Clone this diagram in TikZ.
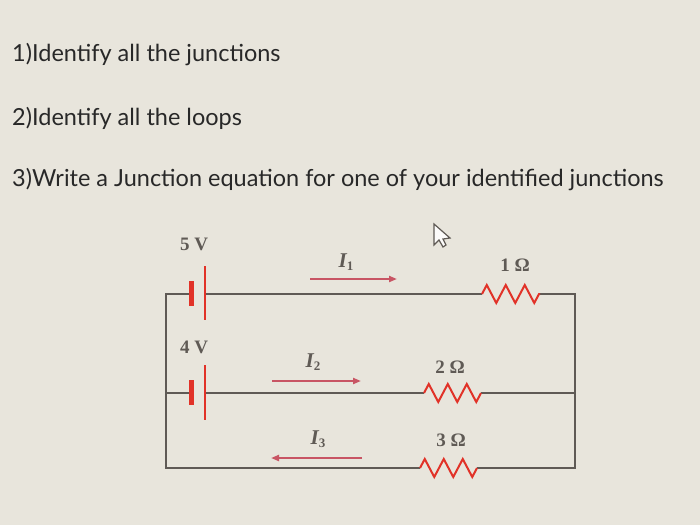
\documentclass[tikz,border=0pt]{standalone}
\usepackage{fontspec}
\setmainfont{Lato}
\newfontfamily\serifb{Liberation Serif}
\usetikzlibrary{decorations.pathmorphing,arrows.meta}
\definecolor{bg}{RGB}{232,229,220}
\definecolor{wire}{RGB}{95,90,85}
\definecolor{res}{RGB}{225,50,40}
\definecolor{arr}{RGB}{200,85,100}
\definecolor{txt}{RGB}{40,40,40}
\tikzset{
  wire/.style={draw=wire,line width=1.8pt},
  resistor/.style={draw=res,line width=2pt,decorate,decoration={zigzag,segment length=19pt,amplitude=9pt}},
  cur/.style={draw=arr,line width=2pt,-{Triangle[length=8pt,width=6pt]}},
  lbl/.style={font=\serifb\bfseries\fontsize{19}{19}\selectfont,text=wire,inner sep=0},
  ilbl/.style={font=\serifb\bfseries\itshape\fontsize{21}{21}\selectfont,text=wire,inner sep=0},
  q/.style={anchor=west,font=\fontsize{23.5}{23.5}\selectfont,text=txt,inner sep=0}
}
\newcommand{\subn}[1]{\raisebox{-0.3ex}{\fontsize{13}{13}\selectfont\upshape #1}}
\begin{document}
\begin{tikzpicture}[x=1pt,y=-1pt]
\fill[bg] (0,0) rectangle (700,525);
\useasboundingbox (0,0) rectangle (700,525);
\node[q] (q1) at (12,55) {1)Identify all the junctions};
\node[q] (q2) at (12,118) {2)Identify all the loops};
\node[q] (q3) at (12,180) {3)Write a Junction equation for one of your identified junctions};
\coordinate (tl) at (166,294); \coordinate (tr) at (575,294);
\coordinate (ml) at (166,393); \coordinate (mr) at (575,393);
\coordinate (bl) at (166,468); \coordinate (br) at (575,468);
\coordinate (b1a) at (191,294); \coordinate (b1b) at (205,294);
\coordinate (b2a) at (191,393); \coordinate (b2b) at (205,393);
\coordinate (r1a) at (482,294); \coordinate (r1b) at (540,294);
\coordinate (r2a) at (424,393); \coordinate (r2b) at (481,393);
\coordinate (r3a) at (420,468); \coordinate (r3b) at (477,468);
\draw[wire] (b1a) -- (tl) -- (bl) -- (r3a);
\draw[wire] (r3b) -- (br) -- (tr) -- (r1b);
\draw[wire] (b1b) -- (r1a);
\draw[wire] (b2a) -- (ml);
\draw[wire] (b2b) -- (r2a);
\draw[wire] (r2b) -- (mr);
\draw[resistor] (r1a) -- (r1b);
\draw[resistor] (r2a) -- (r2b);
\draw[resistor] (r3a) -- (r3b);
\draw[draw=res,line width=5pt] (191,281) -- (191,306);
\draw[draw=res,line width=2pt] (205,266) -- (205,320);
\draw[draw=res,line width=5pt] (191,380) -- (191,405);
\draw[draw=res,line width=2pt] (205,365) -- (205,420);
\node[lbl] (v5) at (194,244) {5 V};
\node[lbl] (v4) at (194,347) {4 V};
\node[lbl] (o1) at (515,265) {1 Ω};
\node[lbl] (o2) at (450,367) {2 Ω};
\node[lbl] (o3) at (451,440) {3 Ω};
\coordinate (a1s) at (310,279); \coordinate (a1e) at (397,279);
\coordinate (a2s) at (272,381); \coordinate (a2e) at (361,381);
\coordinate (a3s) at (362,458); \coordinate (a3e) at (271,458);
\draw[cur] (a1s) -- (a1e);
\draw[cur] (a2s) -- (a2e);
\draw[cur] (a3s) -- (a3e);
\node[ilbl] (i1) at (346,262) {I\subn{1}};
\node[ilbl] (i2) at (313,362) {I\subn{2}};
\node[ilbl] (i3) at (318,439) {I\subn{3}};
\draw[wire,line width=1.2pt,fill=white!85!bg] (434,224) -- (434,245) -- (439,240) -- (443,247) -- (446,245) -- (443,239) -- (450,238) -- cycle;
\end{tikzpicture}
\end{document}
